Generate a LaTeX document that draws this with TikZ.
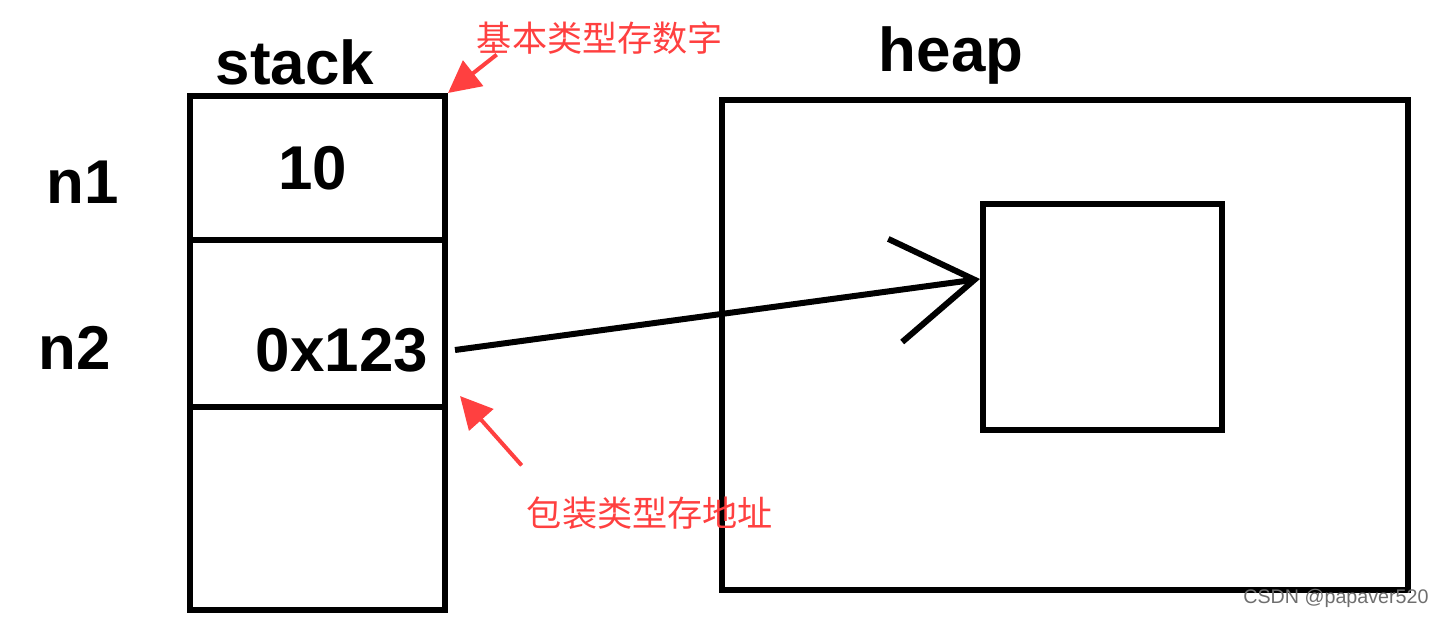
\documentclass[tikz,border=0pt]{standalone}
\usepackage{fontspec}
\setmainfont{Liberation Sans}
\newfontfamily\cjk{Noto Sans CJK SC}
\usetikzlibrary{arrows.meta,positioning}
\definecolor{notered}{RGB}{255,64,64}
\definecolor{markgray}{RGB}{110,110,110}

\begin{document}
\begin{tikzpicture}[x=0.025cm,y=-0.025cm,
  cell/.style={draw, line width=0.15cm, minimum width=6.375cm, inner sep=0pt},
  big/.style={font=\bfseries\fontsize{44}{48}\selectfont},
  note/.style={text=notered, inner sep=0pt, font=\cjk\fontsize{25}{28}\selectfont},
  pointer/.style={draw=notered, line width=0.1cm, -{Triangle[length=0.8cm,width=0.8cm]}},
  link/.style={line width=0.15cm, -{Straight Barb[length=2cm,width=2.6cm]}}]
\useasboundingbox (0,0) rectangle (1442,620);

% stack
\node[cell, minimum height=3.6cm] (cellA) at (317.5,168) {};
\node[cell, minimum height=4.175cm] (cellB) at (317.5,323.5) {};
\node[cell, minimum height=5.075cm] (cellC) at (317.5,508.5) {};
\node[big] (stack) at (295,62) {stack};
\node[big] (val1) at (313,168) {10};
\node[big] (val2) at (342,350) {0x123};
\node[big] (n1) at (83,182) {n1};
\node[big] (n2) at (75,348) {n2};

% heap
\node[draw, line width=0.15cm, minimum width=17.15cm, minimum height=12.25cm] (heapbox) at (1065,345) {};
\node[draw, line width=0.15cm, minimum width=5.975cm, minimum height=5.65cm] (obj) at (1102.5,317) {};
\node[big] (heap) at (951,55) {heap};

\coordinate (src) at (455,350);
\draw[link] (src) -- ([yshift=0.95cm]obj.west);

% notes
\node[note] (noteTop) at (600,38) {基本类型存数字};
\node[note] (noteBot) at (650,513) {包装类型存地址};
\draw[pointer] ([xshift=0.5cm]noteTop.south west) -- (cellA.north east);
\draw[pointer] ([xshift=-0.125cm,yshift=0.775cm]noteBot.north west) -- ([xshift=0.3cm,yshift=0.35cm]cellB.south east);

\node[text=markgray, font=\fontsize{14}{16}\selectfont] (mark) at (1336,598) {CSDN @papaver520};
\end{tikzpicture}
\end{document}
